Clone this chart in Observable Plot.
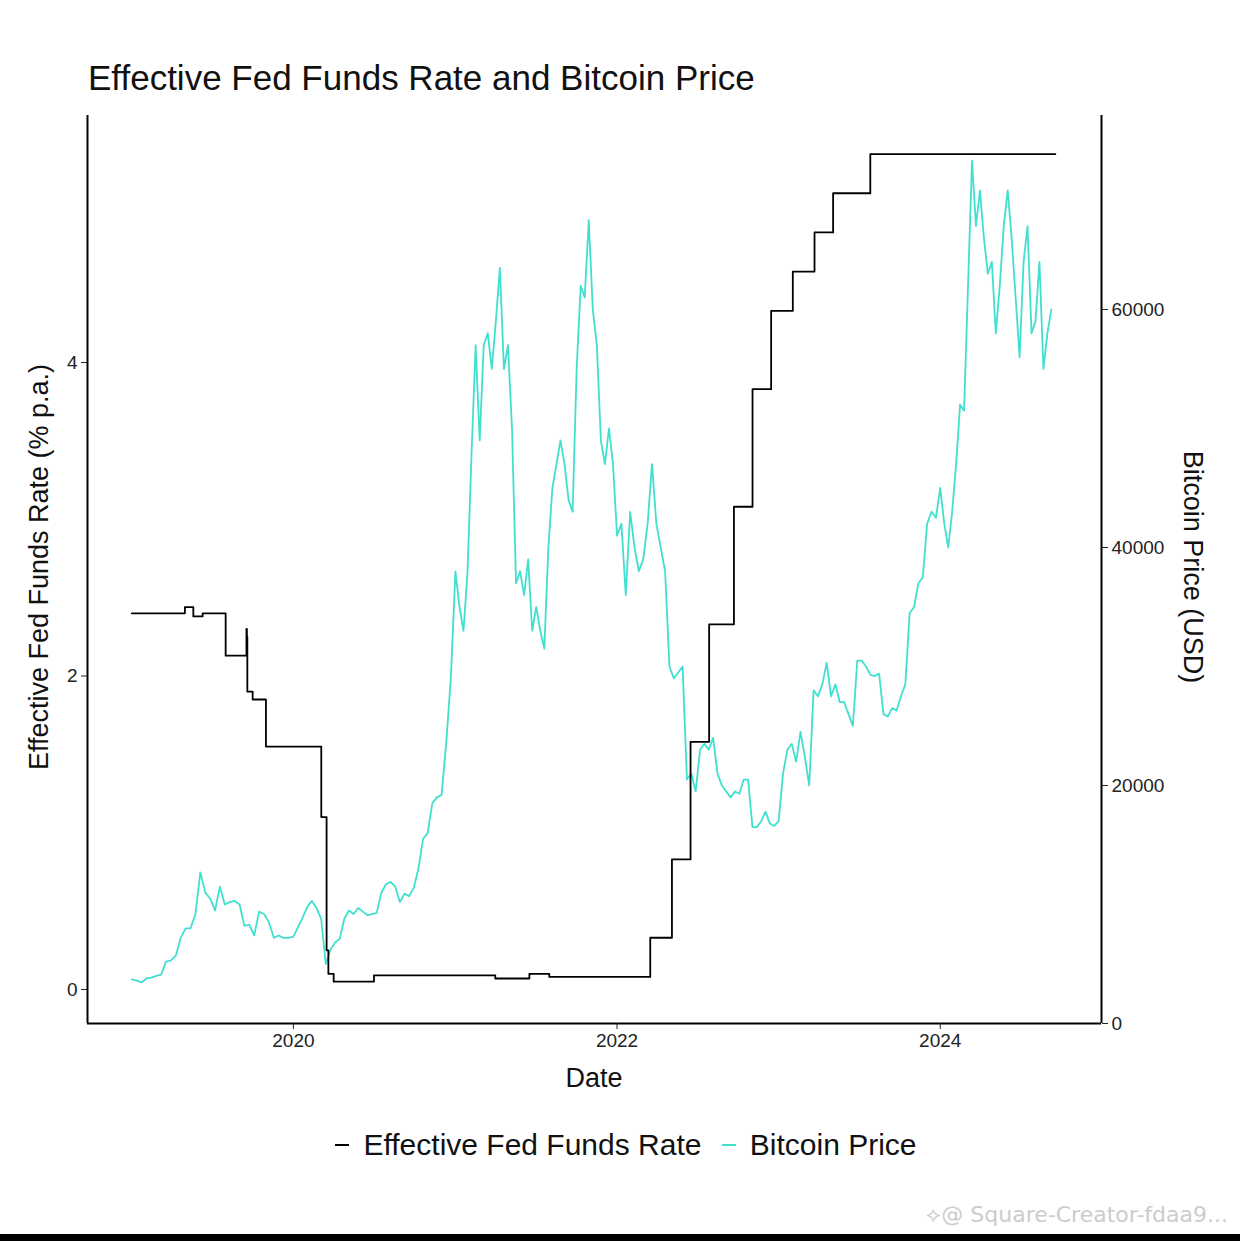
<!DOCTYPE html>
<html><head><meta charset="utf-8">
<script src="https://cdn.jsdelivr.net/npm/d3@7"></script>
<script src="https://cdn.jsdelivr.net/npm/@observablehq/plot@0.6"></script>
<style>
body{margin:0;background:#fff;font-family:"Liberation Sans",Arial,sans-serif;}
#wrap{position:relative;width:1240px;height:1241px;overflow:hidden;}
#chart{position:absolute;left:0;top:0;}
#title{position:absolute;left:88px;top:58px;font-size:35px;color:#111;z-index:2;}
#legend{position:absolute;top:1128px;left:0;width:1240px;text-align:center;font-size:30px;color:#111;padding-right:10px;}
#legend span.k{display:inline-block;width:14px;height:2px;vertical-align:middle;margin:0 14px 4px 12px;}
#wm{position:absolute;right:12px;top:1202px;font-size:22px;color:#ccc;font-family:"DejaVu Sans";}
#bar{position:absolute;left:0;top:1234px;width:1240px;height:7px;background:#000;}
</style></head><body>
<div id="wrap">
<div id="chart"></div>
<div id="title">Effective Fed Funds Rate and Bitcoin Price</div>
<div id="legend"><span class="k" style="background:#000"></span>Effective Fed Funds Rate <span class="k" style="background:#40E0D0"></span>Bitcoin Price</div>
<div id="wm">⟡@ Square-Creator-fdaa9...</div>
<div id="bar"></div>
</div>
<script>
const fedDates = ["2019-01-01","2019-05-01","2019-05-20","2019-06-10","2019-08-01","2019-09-17","2019-09-18","2019-09-19","2019-10-01","2019-10-31","2020-03-04","2020-03-16","2020-03-20","2020-04-01","2020-05-01","2020-07-01","2021-01-01","2021-04-01","2021-06-17","2021-08-01","2022-03-17","2022-05-05","2022-06-16","2022-07-28","2022-09-22","2022-11-03","2022-12-15","2023-02-02","2023-03-23","2023-05-04","2023-07-27","2024-09-17"];
const fedRates = [2.40,2.44,2.38,2.40,2.13,2.30,2.25,1.90,1.85,1.55,1.10,0.25,0.10,0.05,0.05,0.09,0.09,0.07,0.10,0.08,0.33,0.83,1.58,2.33,3.08,3.83,4.33,4.58,4.83,5.08,5.33,5.33];

const btc2019 = [3700,3600,3450,3800,3850,4000,4100,5200,5300,5700,7200,8000,8000,9200,12700,11000,10500,9500,11500,10000,10200,10300,10000,8200,8300,7400,9400,9200,8500,7200,7400,7200,7200];
const btc2020 = [7300,8100,8900,9800,10300,9700,8800,5000,6200,6800,7100,8800,9500,9200,9700,9400,9100,9200,9300,11000,11700,11900,11500,10200,10900,10700,11400,13000,15500,16000,18500,19000,19200,23500,29000];
const btc2021 = [38000,35000,33000,38000,48000,57000,49000,57000,58000,55000,59000,63500,55000,57000,50000,37000,38000,36000,39000,33000,35000,33000,31500,40000,45000,47000,49000,47000,44000,43000,55000,62000,61000,67500,60000,57000,49000,47000,50000,47000];
const btc2022 = [41000,42000,36000,43000,40000,38000,39000,42000,47000,42000,40000,38000,30000,29000,29500,30000,20500,21000,19500,23000,23500,23000,24000,21000,20000,19500,19000,19500,19300,20500,20500,16500,16500,17000,17800,16800,16600];
const btc2023 = [17000,21000,23000,23500,22000,24500,22400,20000,28000,27500,28500,30300,27500,28500,27000,27000,26000,25000,30500,30500,30000,29300,29200,29400,26000,25800,26500,26300,27500,28500,34500,35000,37000,37500,42000,43000,42500];
const btc2024 = [45000,42000,40000,43000,47000,52000,51500,62000,72500,67000,70000,66000,63000,64000,58000,62000,67000,70000,66000,61000,56000,64000,67000,58000,59000,64000,55000,58000,60000];
const btcYears = [[2019,btc2019,1],[2020,btc2020,1],[2021,btc2021,1],[2022,btc2022,1],[2023,btc2023,1],[2024,btc2024,0.71]];

const leftTicks = [0,2,4];
const rightTicks = [0,20000,40000,60000];
const xTicks = [2020,2022,2024];

const yMin = -0.217, yMax = 5.576, btcMax = 76300;
const toFed = v => yMin + v*(yMax-yMin)/btcMax;
const fromFed = f => (f - yMin)*btcMax/(yMax-yMin);
const yearDate = y => { const yr=Math.floor(y); const s=new Date(yr,0,1), e=new Date(yr+1,0,1); return new Date(+s + (y-yr)*(e-s)); };

const fed = fedDates.map((d,i)=>({date:new Date(d), v:fedRates[i]}));
const btc = [];
for (const [yr, arr, span] of btcYears) arr.forEach((v,i)=>btc.push({date:yearDate(yr + span*i/arr.length), v:toFed(v)}));

const font = "Liberation Sans, Arial, sans-serif";
const plot = Plot.plot({
  width:1240, height:1241,
  marginLeft:87, marginRight:139, marginTop:115, marginBottom:218,
  style:{fontFamily:font, fontSize:"19px", color:"#222", background:"transparent"},
  x:{type:"time", domain:[yearDate(2018.726), yearDate(2024.995)]},
  y:{domain:[yMin,yMax]},
  marks:[
    Plot.lineY(btc,{x:"date",y:"v",stroke:"#40E0D0",strokeWidth:1.8}),
    Plot.lineY(fed,{x:"date",y:"v",stroke:"#000",strokeWidth:1.8,curve:"step-after"}),
    Plot.ruleX([yearDate(2018.726)],{stroke:"#000",strokeWidth:2}),
    Plot.ruleX([yearDate(2024.995)],{stroke:"#000",strokeWidth:2}),
    Plot.ruleY([yMin],{stroke:"#000",strokeWidth:2}),
    Plot.axisY(leftTicks,{anchor:"left",tickSize:6,tickPadding:4,fontSize:19,label:null,tickFormat:d=>String(d)}),
    Plot.axisY(rightTicks.map(toFed),{anchor:"right",tickSize:6,tickPadding:4,fontSize:19,label:null,tickFormat:d=>String(Math.round(fromFed(d)/1000)*1000)}),
    Plot.axisX(xTicks.map(yearDate),{anchor:"bottom",tickSize:6,tickPadding:4,fontSize:19,label:null,tickFormat:d=>String(d.getFullYear())})
  ]
});
document.getElementById("chart").appendChild(plot);
const svg = d3.select(plot);
svg.append("text").attr("transform","translate(48,567) rotate(-90)").attr("text-anchor","middle").attr("font-size",27).attr("fill","#111").text("Effective Fed Funds Rate (% p.a.)");
svg.append("text").attr("transform","translate(1184,567) rotate(90)").attr("text-anchor","middle").attr("font-size",27).attr("fill","#111").text("Bitcoin Price (USD)");
svg.append("text").attr("x",594).attr("y",1087).attr("text-anchor","middle").attr("font-size",27).attr("fill","#111").text("Date");
</script>
</body></html>
